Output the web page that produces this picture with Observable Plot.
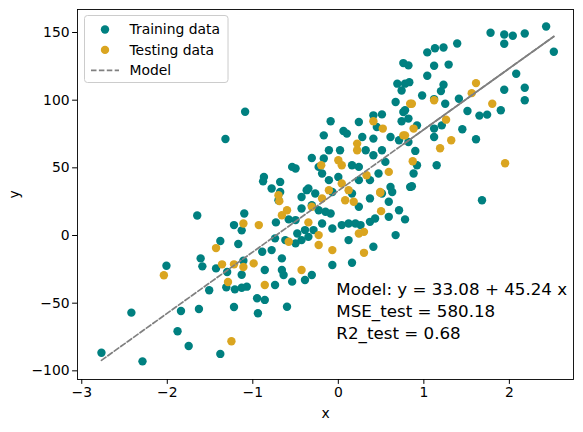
<!DOCTYPE html>
<html>
<head>
<meta charset="utf-8">
<script src="https://cdn.jsdelivr.net/npm/d3@7"></script>
<script src="https://cdn.jsdelivr.net/npm/@observablehq/plot@0.6"></script>
<style>
  html, body { margin: 0; padding: 0; background: #fff; }
  #chart { width: 583px; height: 432px; }
  svg { font-family: "DejaVu Sans", sans-serif; }
</style>
</head>
<body>
<div id="chart"></div>
<script>
// ---- data ----
const trainX = [
  -2.77,-2.42,-2.29,-2.01,-1.65,-1.84,-1.88,-1.75,-1.38,-1.63,-1.51,-1.22,-1.61,-1.59,-1.38,-1.22,-1.13,-1.17,-1.43,-1.30,-1.31,-1.21,-1.13,-1.13,-1.10,-1.11,-1.32,-1.09,
  -0.73,-0.58,-0.50,-0.43,-0.31,-0.23,-0.15,-0.09,-0.07,-0.19,-0.39,-0.35,-0.43,-0.50,-0.62,-0.74,-0.78,-0.89,-0.66,-0.86,-0.66,-0.64,-0.54,-0.74,-0.39,-0.31,-1.07,-0.95,-0.86,-0.94,-0.60,-0.07,0.16,0.04,0.12,0.20,0.26,0.12,0.41,0.67,0.37,0.43,0.59,0.71,0.78,0.59,0.37,0.24,0.16,0.63,-0.07,-0.27,-0.37,-0.68,-0.70,-0.43,-0.48,-0.29,
  0.76,0.82,0.69,0.78,0.74,0.67,0.76,0.82,0.41,0.51,0.45,0.24,-0.09,-0.17,0.06,0.10,0.28,0.41,0.61,0.71,-0.11,0.02,0.32,0.51,0.41,-0.31,-0.17,-0.23,0.16,0.24,0.55,-0.54,-0.50,-0.87,-0.88,-0.68,-0.78,-0.35,-0.19,-0.11,0.00,0.24,0.37,0.47,0.61,0.84,0.51,0.74,
  2.43,1.78,1.94,2.04,2.18,1.94,2.52,1.39,1.23,1.13,1.04,1.12,1.29,1.04,0.83,1.23,1.20,0.98,1.12,1.25,1.41,2.08,1.94,2.18,2.18,1.51,1.65,1.74,1.90,1.45,1.61,1.12,1.21,1.12,0.90,0.92,1.15,0.88,0.86,1.68,0.78,0.92,0.82
];
const trainY = [
  -86.6,-57,-93,-22.4,14.8,-55.8,-70.7,-81.6,-87.5,-54.3,-40.5,-52.8,-16.9,-22.8,-4.1,7.7,3.8,-6.3,-24.3,-27,-38.3,-39.8,-38.6,-29,16.3,-18.7,71.3,91.5,
  9.7,11.9,11.4,20,22.4,18.7,17.5,16.3,5.2,8.9,4,-1,-3.4,-5.8,-3.4,-2.1,-10.8,-12,-16.9,-25.5,-25.5,-29.2,-34.1,-36.6,-32.9,-29.2,-37.8,-46.4,-47.6,-57.5,-52.6,-21.8,-20.1,7.7,8.9,8.9,7.7,-3.4,-8.3,0.3,10.1,12.6,13.8,18.7,11.9,24.9,27.4,21.2,31,32.2,32.2,31,33.5,32.2,26.1,28.5,1.5,4,
  127.4,125.7,112.2,112.2,107.2,98.6,91.2,86.4,88.8,89.5,80.2,83.9,84.4,74,77.2,75.3,72.8,71.6,72.8,70.4,63,63,63,63,59.3,57.3,56.9,50.7,51.9,50.7,54.4,50.7,49.5,43.3,40,39.6,34.7,34.7,45.8,40.9,43.3,40.9,40.9,45.8,35.9,35.9,31,84.4,
  154.4,149.8,148.5,147.6,149.3,141.7,135.8,141.9,138.9,138.4,135.3,125.4,126.3,118.1,113.3,111.4,106.7,103.5,100.8,97.4,101.1,119.5,107.7,109.2,99.9,92,88.6,89.3,92.5,78.5,71.1,79,81.4,72.8,62.5,51.9,51.9,45.8,36.4,26.1,92.5,81.4,69.1
];
const testX = [
  -2.04,-1.43,-1.36,-1.22,-1.29,-1.25,-1.11,-1.11,-0.69,-0.66,-0.60,-0.93,-0.35,-0.31,-0.19,-0.23,-0.23,-0.07,-0.58,-0.99,-0.43,-0.86,
  0.08,0.18,0.24,0.30,0.30,0.50,0.49,0.41,0.52,0.22,0.22,0.00,0.04,-0.20,0.76,0.84,0.33,0.59,0.49,-0.11,0.04,0.12,-0.70,
  1.61,1.56,1.12,0.86,1.80,1.26,0.88,0.78,1.32,1.19,0.87,1.95
];
const testY = [
  -29.4,-9.3,-21.3,-21.3,-34.4,-78.1,8.9,-23.3,25.4,15,18.7,7.7,9.7,21.2,27.4,0.3,-7,-10.8,-4.6,-20.6,-25.5,-36.6,
  26.1,24.9,1.5,2.7,-12.8,18,31.5,84.4,79,67.9,63,55.6,51.9,51.9,74,97.4,44.5,47,32.2,33.5,38.4,33.5,29.8,
  112.6,105.2,99.9,97.4,97.4,85.6,79,74,70.4,64.5,54.9,53.4
];
const intercept = 33.08;
const slope = 45.24;
const mseTest = 580.18;
const r2Test = 0.68;
const xTicks = [-3, -2, -1, 0, 1, 2];
const yTicks = [-100, -50, 0, 50, 100, 150];
const legendLabels = ["Training data", "Testing data", "Model"];

// ---- tables built from the arrays ----
const train = trainX.map((x, i) => ({x, y: trainY[i]}));
const test = testX.map((x, i) => ({x, y: testY[i]}));
const allX = trainX.concat(testX);
const xMin = d3.min(allX), xMax = d3.max(allX);
const modelLine = [xMin, xMax].map(x => ({x, y: intercept + slope * x}));
const modelSolid = [0.75, xMax].map(x => ({x, y: intercept + slope * x}));

const TEAL = "#008080", GOLD = "#DAA520", GRAY = "#808080";
const FS = 13.9;

const annotation = `Model: y = ${intercept.toFixed(2)} + ${slope.toFixed(2)} x\nMSE_test = ${mseTest.toFixed(2)}\nR2_test = ${r2Test.toFixed(2)}`;

const plot = Plot.plot({
  width: 583,
  height: 432,
  marginLeft: 77,
  marginRight: 10,
  marginTop: 9,
  marginBottom: 53,
  style: {fontFamily: "DejaVu Sans, sans-serif", fontSize: FS + "px", background: "#fff", color: "#000"},
  x: {domain: [-3.05, 2.75]},
  y: {domain: [-106.4, 167]},
  marks: [
    Plot.axisX({ticks: xTicks, tickFormat: d => d < 0 ? "\u2212" + Math.abs(d) : String(d), tickSize: 4.9, tickPadding: 3, fontSize: FS, label: "x", labelAnchor: "center", labelArrow: "none", labelOffset: 38}),
    Plot.axisY({ticks: yTicks, tickFormat: d => d < 0 ? "\u2212" + Math.abs(d) : String(d), tickSize: 4.9, tickPadding: 3, fontSize: FS, label: "y", labelAnchor: "center", labelArrow: "none", labelOffset: 68}),
    Plot.dot(train, {x: "x", y: "y", r: 4.2, fill: TEAL, stroke: "none"}),
    Plot.dot(test, {x: "x", y: "y", r: 4.2, fill: GOLD, stroke: "none"}),
    Plot.line(modelLine, {x: "x", y: "y", stroke: GRAY, strokeWidth: 1.7, strokeDasharray: "5.5,2.4"}),
    Plot.line(modelSolid, {x: "x", y: "y", stroke: GRAY, strokeWidth: 1.7}),
    Plot.text([annotation], {x: 0, y: -54.7, dx: -2, text: d => d, textAnchor: "start", lineAnchor: "middle", lineHeight: 1.32, fontSize: 16.7, fill: "#000"}),
    Plot.frame({stroke: "#000", strokeWidth: 0.9})
  ]
});

document.getElementById("chart").appendChild(plot);

// ---- legend drawn inside the SVG ----
const svg = d3.select(plot);
const lg = svg.append("g").attr("font-family", "DejaVu Sans, sans-serif").attr("font-size", FS).attr("text-anchor", "start");
const boxX = 84.5, boxY = 15.5, rowY0 = 29.5, rowGap = 20.4;
const rect = lg.append("rect").attr("x", boxX).attr("y", boxY).attr("rx", 3).attr("ry", 3)
  .attr("height", 67).attr("fill", "#fff").attr("fill-opacity", 0.8).attr("stroke", "#cccccc").attr("stroke-width", 1);
legendLabels.forEach((lab, i) => {
  const cy = rowY0 + i * rowGap;
  if (i < 2) {
    lg.append("circle").attr("cx", 105).attr("cy", cy).attr("r", 4.2).attr("fill", i === 0 ? TEAL : GOLD).attr("stroke", "none");
  } else {
    lg.append("line").attr("x1", 91).attr("x2", 119).attr("y1", cy).attr("y2", cy)
      .attr("stroke", GRAY).attr("stroke-width", 1.7).attr("stroke-dasharray", "5.5,2.4");
  }
  lg.append("text").attr("x", 129.5).attr("y", cy).attr("dy", "0.35em").attr("text-anchor", "start").attr("fill", "#000").text(lab);
});
let maxW = 0;
lg.selectAll("text").each(function() { maxW = Math.max(maxW, this.getBBox().width); });
rect.attr("width", (129.5 + maxW + 7) - boxX);
</script>
</body>
</html>
